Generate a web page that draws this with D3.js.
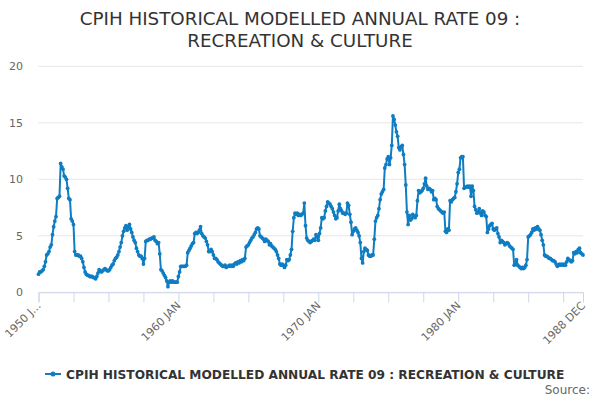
<!DOCTYPE html>
<html>
<head>
<meta charset="utf-8">
<script src="https://cdn.jsdelivr.net/npm/d3@7.9.0/dist/d3.min.js"></script>
<style>
  body { margin: 0; background: #fff; }
  svg { display: block; font-family: "DejaVu Sans", sans-serif; }
</style>
</head>
<body>
<svg id="chart" width="600" height="400"></svg>
<script>
const years = d3.range(1950, 1989);
const months = ["JAN", "FEB", "MAR", "APR", "MAY", "JUN", "JUL", "AUG", "SEP", "OCT", "NOV", "DEC"];

// annual rate, one row of 12 months per year, 1950 - 1988
const rates = [
  1.6, 1.8, 1.8, 1.9, 2.0, 2.3, 2.7, 3.3, 3.4, 3.6, 4.0, 4.2,
  5.1, 5.8, 6.3, 6.7, 8.3, 8.4, 8.5, 11.4, 11.1, 10.9, 10.3, 10.2,
  10.0, 9.2, 8.3, 8.2, 6.5, 6.3, 6.0, 3.6, 3.3, 3.3, 3.3, 3.2,
  3.2, 3.0, 2.7, 2.2, 1.8, 1.6, 1.5, 1.5, 1.4, 1.4, 1.4, 1.3,
  1.3, 1.2, 1.4, 1.7, 2.0, 1.9, 1.8, 1.9, 2.0, 2.1, 2.0, 1.9,
  1.9, 2.0, 2.2, 2.4, 2.5, 2.8, 3.0, 3.1, 3.3, 3.6, 4.0, 4.4,
  5.0, 5.4, 5.7, 5.9, 5.5, 5.8, 6.0, 5.6, 5.3, 4.9, 4.6, 4.4,
  3.9, 3.6, 3.3, 3.2, 3.2, 3.0, 2.5, 3.0, 4.5, 4.6, 4.6, 4.7,
  4.7, 4.8, 4.8, 4.9, 4.6, 4.5, 4.3, 4.4, 3.4, 2.0, 1.9, 1.7,
  1.5, 1.3, 1.0, 0.5, 0.9, 1.0, 0.9, 1.0, 0.9, 0.9, 0.9, 0.9,
  1.4, 1.8, 2.3, 2.3, 2.3, 2.3, 2.3, 2.4, 3.5, 3.7, 3.9, 4.1,
  4.3, 4.4, 5.2, 5.3, 5.2, 5.3, 5.5, 5.8, 5.2, 5.0, 4.9, 4.8,
  4.5, 4.2, 3.6, 3.6, 3.8, 3.6, 3.3, 3.0, 3.0, 2.9, 2.7, 2.6,
  2.5, 2.4, 2.3, 2.3, 2.4, 2.2, 2.3, 2.3, 2.4, 2.3, 2.4, 2.3,
  2.5, 2.6, 2.5, 2.7, 2.6, 2.8, 2.7, 2.9, 2.8, 3.0, 4.0, 4.1,
  4.2, 4.4, 4.6, 4.8, 4.9, 5.1, 5.3, 5.6, 5.7, 5.6, 5.0, 4.9,
  4.8, 4.7, 4.5, 4.7, 4.6, 4.5, 4.2, 4.3, 4.1, 4.0, 3.9, 3.8,
  3.6, 3.3, 3.0, 2.5, 2.4, 2.5, 2.4, 2.2, 2.4, 2.9, 2.8, 2.9,
  3.3, 3.8, 5.4, 6.6, 7.0, 6.9, 7.0, 6.8, 6.9, 6.8, 6.9, 7.0,
  7.9, 5.9, 4.8, 4.6, 4.5, 4.4, 4.5, 4.6, 4.7, 4.6, 5.1, 4.9,
  4.6, 5.2, 5.7, 6.6, 6.5, 6.6, 7.2, 7.6, 8.0, 7.9, 7.8, 7.6,
  7.4, 7.1, 6.8, 6.5, 6.6, 7.2, 7.8, 7.4, 7.2, 7.0, 7.0, 6.9,
  7.0, 7.9, 7.7, 6.9, 6.2, 5.1, 5.4, 5.6, 5.7, 5.5, 5.3, 5.0,
  4.4, 3.0, 2.6, 3.6, 3.9, 3.8, 3.7, 3.3, 3.2, 3.2, 3.3, 3.3,
  4.7, 6.3, 6.6, 6.8, 7.4, 8.2, 8.7, 8.9, 9.1, 11.0, 11.3, 11.8,
  12.0, 11.3, 11.9, 13.0, 15.6, 15.3, 14.8, 14.2, 13.8, 12.8, 12.6, 12.9,
  13.0, 12.2, 11.3, 9.5, 7.1, 6.0, 6.8, 6.4, 6.5, 6.9, 6.7, 6.6,
  6.8, 8.1, 9.0, 8.8, 8.9, 9.0, 9.2, 9.6, 10.1, 9.4, 9.1, 9.2,
  9.1, 8.9, 9.0, 8.2, 8.3, 8.2, 7.6, 7.4, 7.3, 7.2, 7.1, 7.0,
  7.1, 5.4, 5.3, 5.6, 5.5, 8.1, 8.0, 8.2, 8.3, 8.4, 8.9, 9.6,
  10.6, 10.9, 11.9, 12.0, 12.0, 9.2, 9.3, 9.3, 9.4, 9.3, 9.4, 8.5,
  9.4, 9.0, 7.6, 7.3, 7.0, 7.1, 7.4, 7.0, 6.8, 7.2, 7.1, 6.8,
  6.7, 5.3, 5.6, 5.9, 6.0, 6.1, 5.6, 5.5, 5.6, 5.7, 5.2, 4.9,
  4.4, 4.6, 4.5, 4.4, 4.2, 4.3, 4.4, 4.3, 4.1, 4.0, 3.9, 3.8,
  2.4, 2.5, 2.9, 2.4, 2.3, 2.2, 2.1, 2.2, 2.1, 2.2, 2.4, 2.9,
  4.9, 5.0, 5.1, 5.3, 5.6, 5.5, 5.7, 5.6, 5.8, 5.6, 5.5, 5.1,
  4.6, 4.2, 3.3, 3.2, 3.2, 3.1, 3.0, 3.0, 2.9, 2.8, 2.8, 2.7,
  2.5, 2.3, 2.4, 2.5, 2.4, 2.5, 2.4, 2.5, 2.4, 2.7, 3.0, 2.9,
  2.8, 2.7, 2.8, 3.5, 3.4, 3.6, 3.5, 3.8, 3.9, 3.5, 3.4, 3.3
];

const yTicks = [0, 5, 10, 15, 20];
const labelled = ["1950 JAN", "1960 JAN", "1970 JAN", "1980 JAN", "1988 DEC"];
const title = ["CPIH HISTORICAL MODELLED ANNUAL RATE 09 :", "RECREATION & CULTURE"];
const seriesName = "CPIH HISTORICAL MODELLED ANNUAL RATE 09 : RECREATION & CULTURE";

const periods = [];
years.forEach(yr => months.forEach(m => periods.push(`${yr} ${m}`)));
const data = periods.map((p, i) => ({ period: p, value: rates[i] }));

const blue = "#0f7dc2";
const svg = d3.select("#chart");
const plotLeft = 38.5, plotRight = 583, plotTop = 66.3, plotBottom = 292.3;

const x = d3.scalePoint().domain(periods).range([plotLeft, plotRight]);
const y = d3.scaleLinear().domain([0, 20]).range([plotBottom, plotTop]);

// title
svg.append("text")
  .attr("x", 300).attr("y", 25)
  .attr("text-anchor", "middle")
  .attr("fill", "#333").attr("font-size", 18.3)
  .selectAll("tspan").data(title).join("tspan")
  .attr("x", 300).attr("dy", (d, i) => i ? 21.5 : 0)
  .text(d => d);

// grid
svg.append("g").selectAll("line").data(yTicks).join("line")
  .attr("x1", plotLeft).attr("x2", plotRight)
  .attr("y1", d => y(d)).attr("y2", d => y(d))
  .attr("stroke", "#e6e6e6").attr("stroke-width", 1);

svg.append("g").selectAll("text").data(yTicks).join("text")
  .attr("x", 23).attr("y", d => y(d) + 4)
  .attr("text-anchor", "end")
  .attr("fill", "#666").attr("font-size", 11)
  .text(d => d);

// x axis: tick every 30 months plus the last one
const tickPeriods = periods.filter((p, i) => i % 30 === 0).concat([periods[periods.length - 1]]);
const xAxis = d3.axisBottom(x).tickValues(tickPeriods).tickSize(10).tickFormat("");
const gx = svg.append("g").attr("transform", `translate(0,${plotBottom})`).call(xAxis);
gx.select(".domain").attr("stroke", "#ccd6eb");
gx.selectAll(".tick line").attr("stroke", "#ccd6eb");

svg.append("g").selectAll("text").data(labelled).join("text")
  .attr("transform", d => `translate(${x(d) + 3},${plotBottom + 14}) rotate(-45)`)
  .attr("text-anchor", "end")
  .attr("fill", "#666").attr("font-size", 11)
  .text(d => d === "1950 JAN" ? "1950 J..." : d);

// series
const line = d3.line().x(d => x(d.period)).y(d => y(d.value));
svg.append("path").datum(data)
  .attr("fill", "none").attr("stroke", blue)
  .attr("stroke-width", 2).attr("stroke-linejoin", "round")
  .attr("d", line);

svg.append("g").selectAll("circle").data(data).join("circle")
  .attr("cx", d => x(d.period)).attr("cy", d => y(d.value))
  .attr("r", 1.9).attr("fill", blue);

// legend
const lg = svg.append("g").attr("transform", "translate(45,374)");
lg.append("line").attr("x1", 0).attr("x2", 16).attr("stroke", blue).attr("stroke-width", 2);
lg.append("circle").attr("cx", 8).attr("r", 2.5).attr("fill", blue);
lg.append("text").attr("x", 21).attr("y", 4.5)
  .attr("fill", "#333").attr("font-size", 12.2).attr("font-weight", "bold")
  .text(seriesName);

svg.append("text").attr("x", 590).attr("y", 394)
  .attr("text-anchor", "end").attr("fill", "#666").attr("font-size", 12)
  .text("Source:");
</script>
</body>
</html>
